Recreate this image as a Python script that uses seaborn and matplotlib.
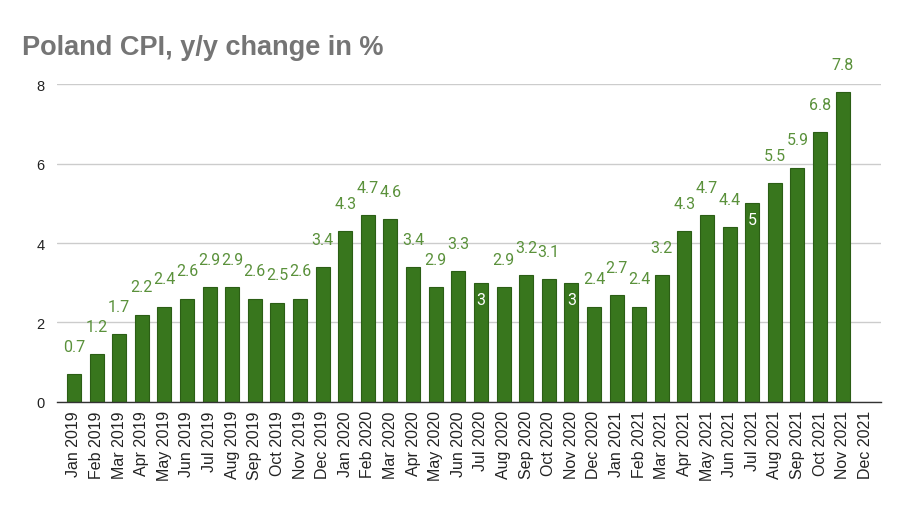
import matplotlib
matplotlib.use('Agg')
import matplotlib.pyplot as plt
import seaborn as sns
import numpy as np
import pandas as pd

# Poland CPI, y/y change in %
months = ['Jan 2019', 'Feb 2019', 'Mar 2019', 'Apr 2019', 'May 2019', 'Jun 2019',
          'Jul 2019', 'Aug 2019', 'Sep 2019', 'Oct 2019', 'Nov 2019', 'Dec 2019',
          'Jan 2020', 'Feb 2020', 'Mar 2020', 'Apr 2020', 'May 2020', 'Jun 2020',
          'Jul 2020', 'Aug 2020', 'Sep 2020', 'Oct 2020', 'Nov 2020', 'Dec 2020',
          'Jan 2021', 'Feb 2021', 'Mar 2021', 'Apr 2021', 'May 2021', 'Jun 2021',
          'Jul 2021', 'Aug 2021', 'Sep 2021', 'Oct 2021', 'Nov 2021', 'Dec 2021']
cpi = [0.7, 1.2, 1.7, 2.2, 2.4, 2.6, 2.9, 2.9, 2.6, 2.5, 2.6, 3.4,
       4.3, 4.7, 4.6, 3.4, 2.9, 3.3, 3.0, 2.9, 3.2, 3.1, 3.0, 2.4,
       2.7, 2.4, 3.2, 4.3, 4.7, 4.4, 5.0, 5.5, 5.9, 6.8, 7.8, np.nan]
# labels the original chart drew inside the bar
inside_labels = ['Jul 2020', 'Nov 2020', 'Jul 2021']

df = pd.DataFrame({'month': months, 'cpi': cpi})

sns.set_theme(style='white')
plt.rcParams['font.family'] = ['Liberation Sans', 'DejaVu Sans']

fig, ax = plt.subplots(figsize=(9, 5.1), dpi=100)
fig.subplots_adjust(left=0.0633, right=0.979, bottom=0.21, top=0.833)

bar_color = '#38761d'
sns.barplot(data=df, x='month', y='cpi', order=months, color=bar_color,
            saturation=1, width=0.62, errorbar=None, ax=ax,
            edgecolor='#2b5e15', linewidth=0.8)

# value labels
for i, (m, v) in enumerate(zip(months, cpi)):
    if np.isnan(v):
        continue
    txt = f'{v:g}'
    if m in inside_labels:
        ax.annotate(txt, (i, v), xytext=(0, -12), textcoords='offset points',
                    ha='center', va='center', color='white', fontsize=11.5,
                    family=['Roboto', 'DejaVu Sans'])
    else:
        ax.annotate(txt, (i, v), xytext=(0, 14.5), textcoords='offset points',
                    ha='center', va='bottom', color='#5a913b', fontsize=11.5,
                    family=['Roboto', 'DejaVu Sans'], annotation_clip=False)

ax.set_xlim(-0.75, 35.7)
ax.set_ylim(0, 8)
ax.set_yticks([0, 2, 4, 6, 8])
ax.yaxis.grid(True, color='#cccccc', linewidth=1)
ax.set_axisbelow(True)
for s in ['top', 'right', 'left']:
    ax.spines[s].set_visible(False)
ax.spines['bottom'].set_color('#333333')
ax.spines['bottom'].set_linewidth(1)
ax.set_xlabel('')
ax.set_ylabel('')
ax.tick_params(axis='x', rotation=90, length=0, labelsize=11.5, labelcolor='#222222', pad=6)
ax.tick_params(axis='y', length=0, labelsize=10.5, labelcolor='#222222', pad=9)

fig.text(22 / 900, 1 - 55 / 510, 'Poland CPI, y/y change in %', fontsize=19.5,
         fontweight='bold', color='#757575', va='baseline', ha='left')

fig.savefig('out.png', dpi=100)
